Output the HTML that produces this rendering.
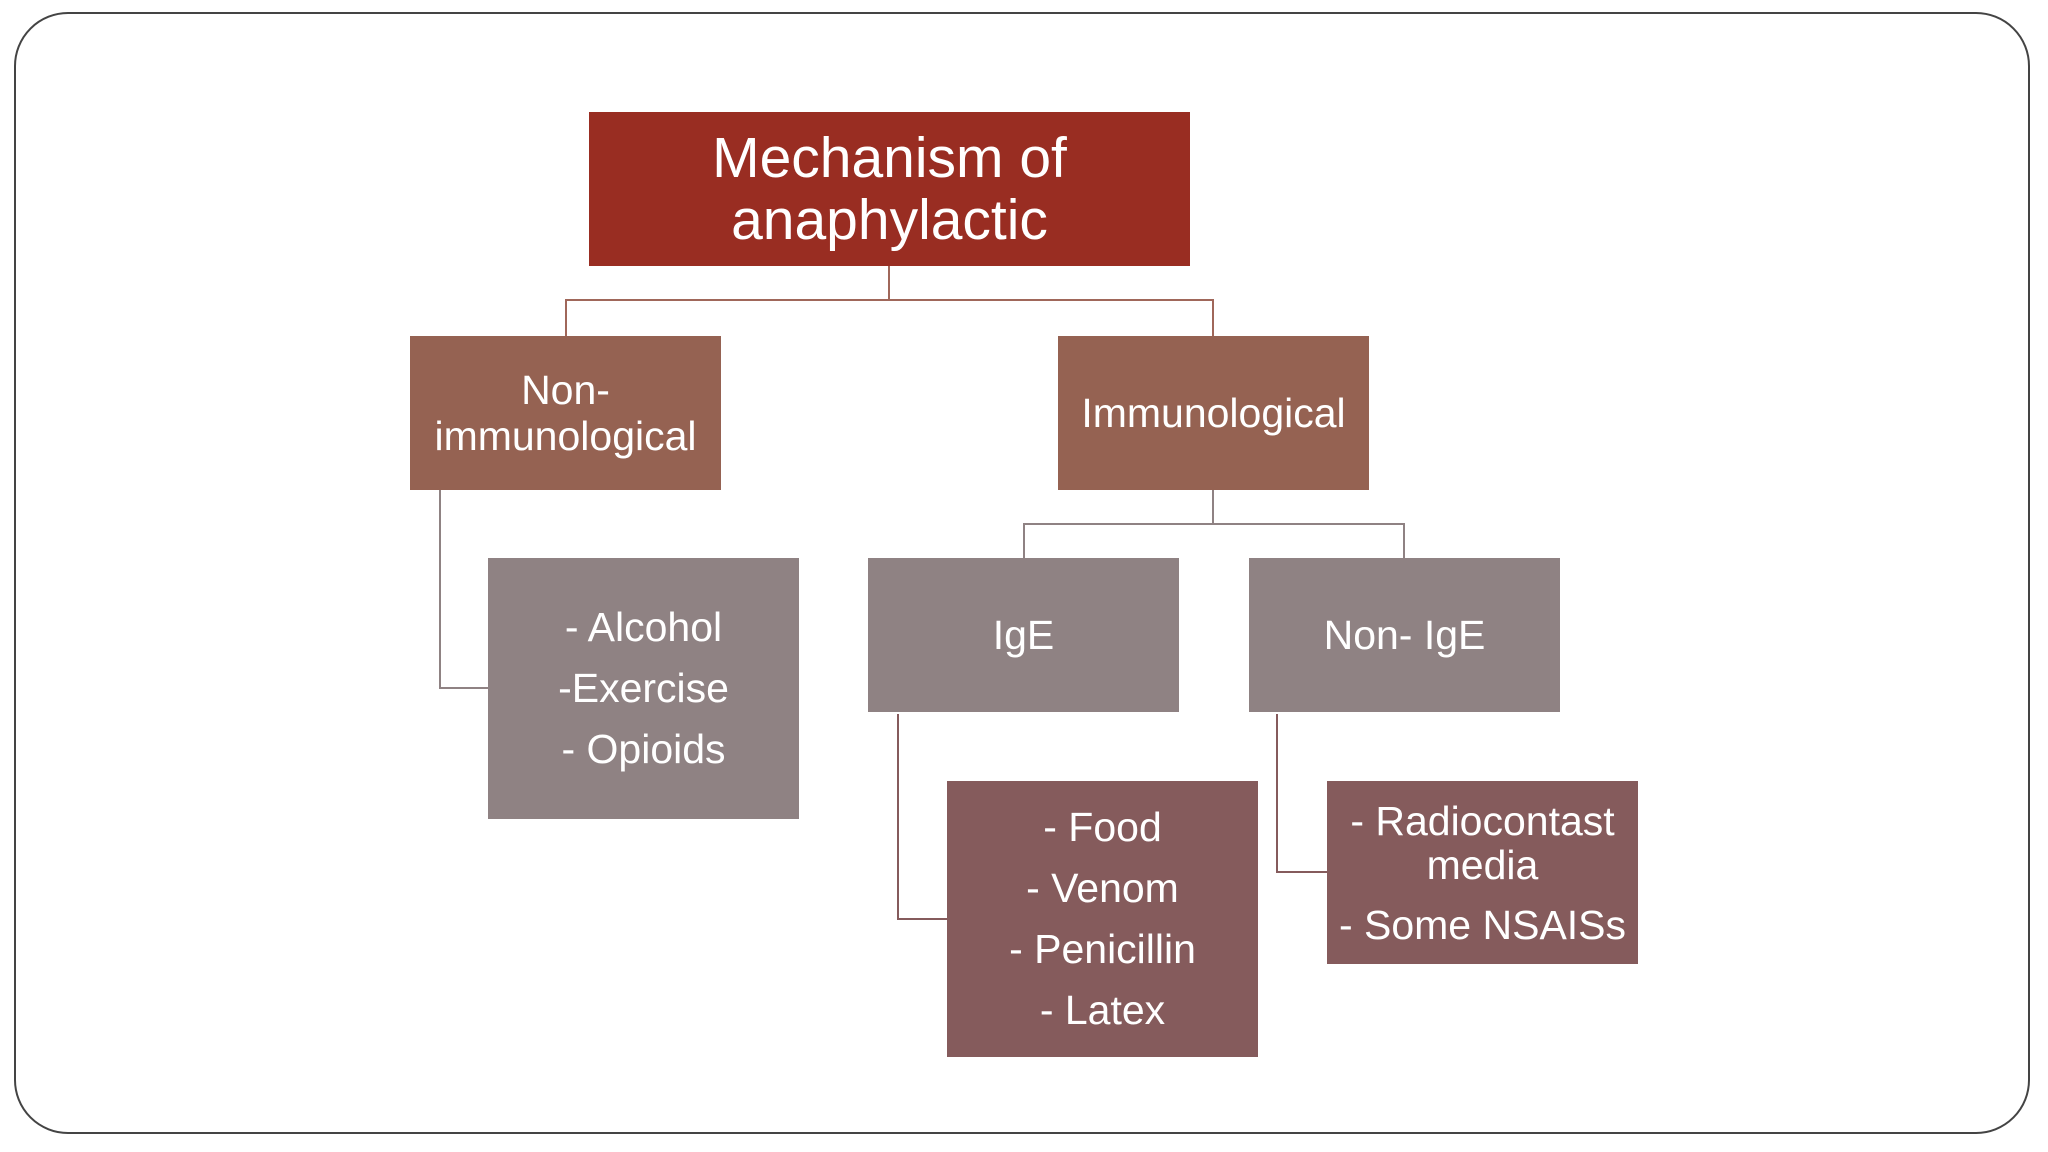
<!DOCTYPE html>
<html><head><meta charset="utf-8"><style>
body{margin:0;width:2048px;height:1152px;background:#fff;position:relative;overflow:hidden;font-family:"Liberation Sans",sans-serif}
.frame{position:absolute;left:14px;top:12px;width:2016px;height:1122px;border:2px solid #444;border-radius:54px;box-sizing:border-box}
.b{position:absolute;color:#fff;display:flex;align-items:center;justify-content:center;text-align:center;font-size:41px;line-height:46px}
.l{position:absolute}
</style></head><body>
<div class="frame"></div>
<svg class="l" width="2048" height="1152" style="left:0;top:0">
<g fill="none" stroke-width="2">
<path d="M889 266V300M566 336V300H1213V336" stroke="#a0675a"/>
<path d="M440 490V688H488" stroke="#8f8283"/>
<path d="M1213 490V524M1024 558V524H1404V558" stroke="#8f8283"/>
<path d="M898 714V919H947" stroke="#855b5c"/>
<path d="M1277 714V872H1327" stroke="#855b5c"/>
</g></svg>
<div class="b" style="left:589px;top:112px;width:601px;height:154px;background:#992d22;font-size:57px;line-height:62px">Mechanism of<br>anaphylactic</div>
<div class="b" style="left:410px;top:336px;width:311px;height:154px;background:#956252">Non-<br>immunological</div>
<div class="b" style="left:1058px;top:336px;width:311px;height:154px;background:#956252">Immunological</div>
<div class="b" style="left:488px;top:558px;width:311px;height:261px;background:#8f8283;line-height:61px">- Alcohol<br>-Exercise<br>- Opioids</div>
<div class="b" style="left:868px;top:558px;width:311px;height:154px;background:#8f8283">IgE</div>
<div class="b" style="left:1249px;top:558px;width:311px;height:154px;background:#8f8283">Non- IgE</div>
<div class="b" style="left:947px;top:781px;width:311px;height:276px;background:#855b5c;line-height:61px">- Food<br>- Venom<br>- Penicillin<br>- Latex</div>
<div class="b" style="left:1327px;top:781px;width:311px;height:183px;background:#855b5c;line-height:44px;white-space:nowrap"><div>- Radiocontast<br>media<div style="height:16px"></div>- Some NSAISs</div></div>
</body></html>
